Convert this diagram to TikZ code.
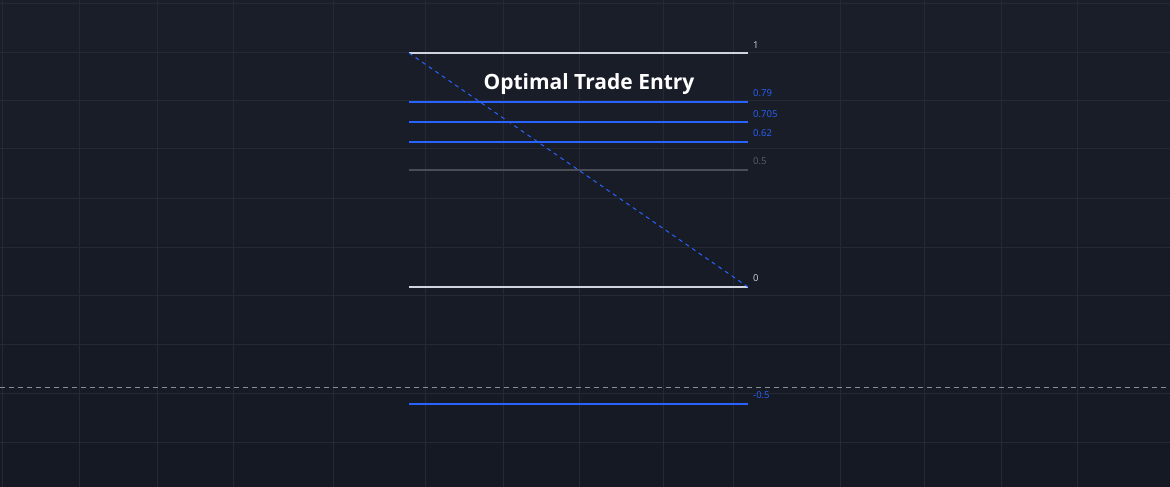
\documentclass[tikz,border=0pt]{standalone}
\usepackage{fontspec}
\setmainfont{Open Sans}
\definecolor{bgtop}{HTML}{1A1E29}
\definecolor{bgbot}{HTML}{151923}
\definecolor{gridc}{HTML}{252935}
\definecolor{fibblue}{HTML}{2962FF}
\definecolor{fibwhite}{HTML}{D1D4DC}
\definecolor{fibgray}{HTML}{4A4D56}
\definecolor{lblgray}{HTML}{5D606B}
\definecolor{crossc}{HTML}{8A8D96}
\tikzset{
  gridline/.style={draw=gridc, line width=0.8pt},
  fibline/.style={line width=2.5pt},
  lvl/.style={anchor=west, inner sep=0pt, font=\fontsize{9.5}{10}\selectfont},
}
\begin{document}
\begin{tikzpicture}[x=1pt,y=-1pt]
\useasboundingbox (0,0) rectangle (1170,487);
\shade[top color=bgtop, bottom color=bgbot] (0,0) rectangle (1170,487);
% grid
\foreach \gx in {2,79,157,233,333,425,503,579,663,733,840,924,1001,1077}
  \draw[gridline] (\gx,0) -- (\gx,487);
\foreach \gy in {3,52,100,148,198,247,295,344,393,442}
  \draw[gridline] (0,\gy) -- (1170,\gy);
% crosshair dashed line
\coordinate (cl) at (0,387);
\coordinate (cr) at (1170,387);
\draw[crossc, line width=1pt, dash pattern=on 5pt off 4pt] (cl) -- (cr);
% fib levels
\coordinate (a1) at (409,53);   \coordinate (b1) at (748,53);
\coordinate (a79) at (409,102); \coordinate (b79) at (748,102);
\coordinate (a705) at (409,122); \coordinate (b705) at (748,122);
\coordinate (a62) at (409,142); \coordinate (b62) at (748,142);
\coordinate (a5) at (409,170);  \coordinate (b5) at (748,170);
\coordinate (a0) at (409,287);  \coordinate (b0) at (748,287);
\coordinate (am) at (409,404);  \coordinate (bm) at (748,404);
\draw[fibline, fibwhite] (a1) -- (b1);
\draw[fibline, fibblue] (a79) -- (b79);
\draw[fibline, fibblue] (a705) -- (b705);
\draw[fibline, fibblue] (a62) -- (b62);
\draw[fibline, fibgray] (a5) -- (b5);
\draw[fibline, fibwhite] (a0) -- (b0);
\draw[fibline, fibblue] (am) -- (bm);
\draw[fibblue, line width=1pt, dash pattern=on 4pt off 4pt] (a1) -- (b0);
% labels
\node[lvl, text=fibwhite] (l1) at (753,45) {1};
\node[lvl, text=fibblue] (l79) at (753,93) {0.79};
\node[lvl, text=fibblue] (l705) at (753,114) {0.705};
\node[lvl, text=fibblue] (l62) at (753,133) {0.62};
\node[lvl, text=lblgray] (l5) at (753,161) {0.5};
\node[lvl, text=fibwhite] (l0) at (753,278) {0};
\node[lvl, text=fibblue] (lm) at (753,395) {-0.5};
% title
\node[text=white, font=\bfseries\fontsize{21}{23}\selectfont, inner sep=0pt] (title) at (589,84.5) {Optimal Trade Entry};
\end{tikzpicture}
\end{document}
